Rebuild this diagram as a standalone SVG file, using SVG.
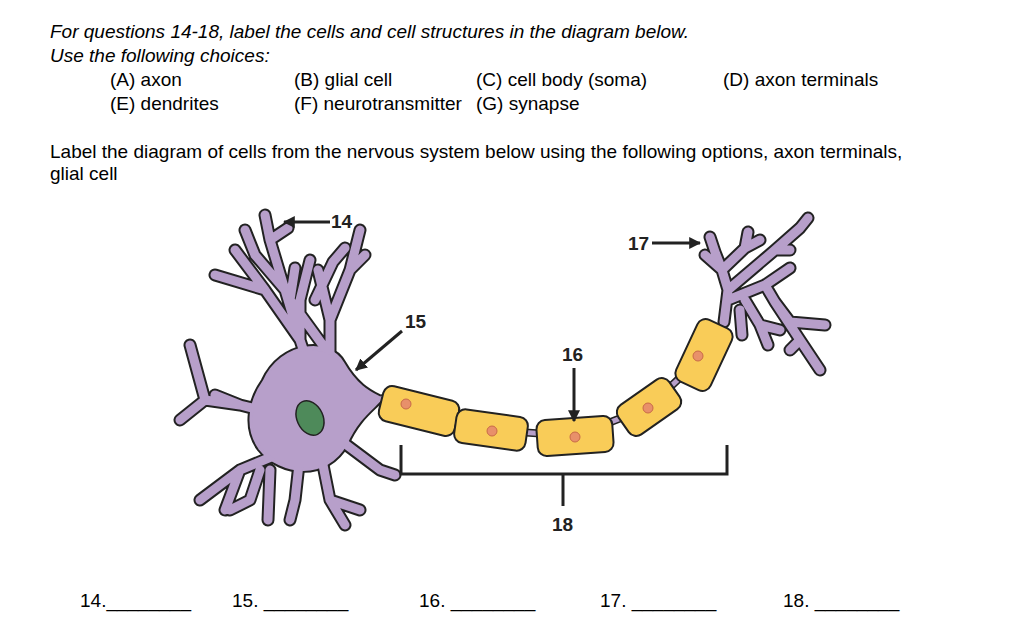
<svg xmlns="http://www.w3.org/2000/svg" width="1024" height="634" viewBox="0 0 1024 634">
<defs>
<style>
.t{font-family:"Liberation Sans",Arial,sans-serif;font-size:19px;fill:#000}
.i{font-style:italic}
.n{font-family:"Liberation Sans",Arial,sans-serif;font-size:19px;font-weight:bold;fill:#222}
.do{fill:none;stroke:#222;stroke-linecap:round;stroke-linejoin:round}
.di{fill:none;stroke:#b79fca;stroke-linecap:round;stroke-linejoin:round}
.my{fill:#f9cc58;stroke:#222;stroke-width:2}
.nu{fill:#e8906a;stroke:#c86a48;stroke-width:1}
.ln{stroke:#222;stroke-width:3;fill:none}
</style>
<marker id="ah" viewBox="0 0 10 10" refX="9" refY="5" markerWidth="4" markerHeight="4" orient="auto"><path d="M0,0 L10,5 L0,10 z" fill="#222"/></marker>
<g id="br">
<path d="M320,400 L300,340 L265,290 L235,250 M265,290 L215,275 M300,340 L285,290 L270,240 L265,215 M285,290 L255,255 L245,230 M270,240 L288,228 M330,390 L330,320 L350,270 L360,230 M330,320 L318,270 M350,270 L365,255 M300,340 L300,300 L310,260 M330,355 L290,300 L295,268 M315,300 L333,262 L345,248"/>
<path d="M300,420 L240,405 L205,400 L190,345 M240,405 L215,395 M205,400 L180,420 M300,445 L240,470 L200,500 M240,470 L225,510 M270,470 L268,520 M320,450 L330,500 L345,525 M330,500 L360,510 M300,455 L295,500 L290,520 M260,470 L250,500 L230,510 M340,440 L380,470 L395,475"/>
<path d="M724,322 L728,290 L722,270 L715,252 M722,270 L705,255 M715,252 L710,237 M722,270 L745,248 L748,232 M745,248 L760,240 M728,290 L775,250 L800,228 L808,218 M775,250 L790,250 M728,300 L765,285 L790,268 M765,285 L775,302 L790,322 M790,322 L825,325 M775,302 L800,340 L820,370 M800,340 L790,350 M745,300 L760,325 L768,345 M740,310 L742,335 M760,325 L780,330"/>
</g>
</defs>
<rect width="1024" height="634" fill="#fff"/>
<text class="t i" x="50" y="38">For questions 14-18, label the cells and cell structures in the diagram below.</text>
<text class="t i" x="50" y="62">Use the following choices:</text>
<text class="t" x="110" y="86">(A) axon</text>
<text class="t" x="294" y="86">(B) glial cell</text>
<text class="t" x="476" y="86">(C) cell body (soma)</text>
<text class="t" x="723" y="86">(D) axon terminals</text>
<text class="t" x="110" y="110">(E) dendrites</text>
<text class="t" x="294" y="110">(F) neurotransmitter</text>
<text class="t" x="476" y="110">(G) synapse</text>
<text class="t" x="50" y="158">Label the diagram of cells from the nervous system below using the following options, axon terminals,</text>
<text class="t" x="50" y="180">glial cell</text>

<g id="neuron">
<path d="M380,398 L419,411 L491,430 L575,436 L649,407 L704,355 L724,322" fill="none" stroke="#222" stroke-width="8"/>
<use href="#br" class="do" stroke-width="13"/>
<path d="M262,380 C280,340 330,335 345,362 C360,388 375,392 385,398 C375,410 360,418 348,445 C328,482 280,478 258,450 C242,428 248,400 262,380 Z" fill="#b79fca" stroke="#222" stroke-width="2"/>
<use href="#br" class="di" stroke-width="9"/>
<path d="M264,382 C282,345 328,342 342,366 C356,390 372,395 380,399 C370,409 357,419 345,443 C326,477 283,473 261,447 C247,428 252,402 264,382 Z" fill="#b79fca"/>
<ellipse cx="310" cy="418" rx="13" ry="18" transform="rotate(-25 310 418)" fill="#4e8a5a" stroke="#222" stroke-width="1.5"/>
<path d="M380,398 L419,411 L491,430 L575,436 L649,407 L704,355 L724,322" fill="none" stroke="#b79fca" stroke-width="5"/>
</g>
<g id="myelin">
<rect class="my" x="380" y="393" width="78" height="36" rx="9" transform="rotate(14 419 411)"/>
<circle class="nu" cx="406" cy="404" r="5"/>
<rect class="my" x="455" y="413" width="72" height="34" rx="9" transform="rotate(8 491 430)"/>
<circle class="nu" cx="492" cy="431" r="5"/>
<rect class="my" x="537" y="418" width="76" height="36" rx="9" transform="rotate(-4 575 436)"/>
<circle class="nu" cx="575" cy="437" r="5"/>
<rect class="my" x="618" y="389" width="62" height="36" rx="9" transform="rotate(-35 649 407)"/>
<circle class="nu" cx="648" cy="408" r="5"/>
<rect class="my" x="670" y="336" width="68" height="38" rx="9" transform="rotate(-65 704 355)"/>
<circle class="nu" cx="698" cy="356" r="5"/>
</g>
<g id="connectors">
<path class="ln" d="M330,222 L284,222" marker-end="url(#ah)"/>
<path class="ln" d="M402,331 L356,370" marker-end="url(#ah)"/>
<path class="ln" d="M574,368 L574,421" marker-end="url(#ah)"/>
<path class="ln" d="M652,243 L700,243" marker-end="url(#ah)"/>
<path class="ln" d="M401,445 V474 H727 V445 M563,474 V506"/>
</g>
<text class="n" x="331" y="228">14</text>
<text class="n" x="405" y="328">15</text>
<text class="n" x="562" y="361">16</text>
<text class="n" x="628" y="250">17</text>
<text class="n" x="552" y="531">18</text>
<text class="t" x="80" y="607">14.________</text>
<text class="t" x="232" y="607">15. ________</text>
<text class="t" x="419" y="607">16. ________</text>
<text class="t" x="600" y="607">17. ________</text>
<text class="t" x="783" y="607">18. ________</text>
</svg>
